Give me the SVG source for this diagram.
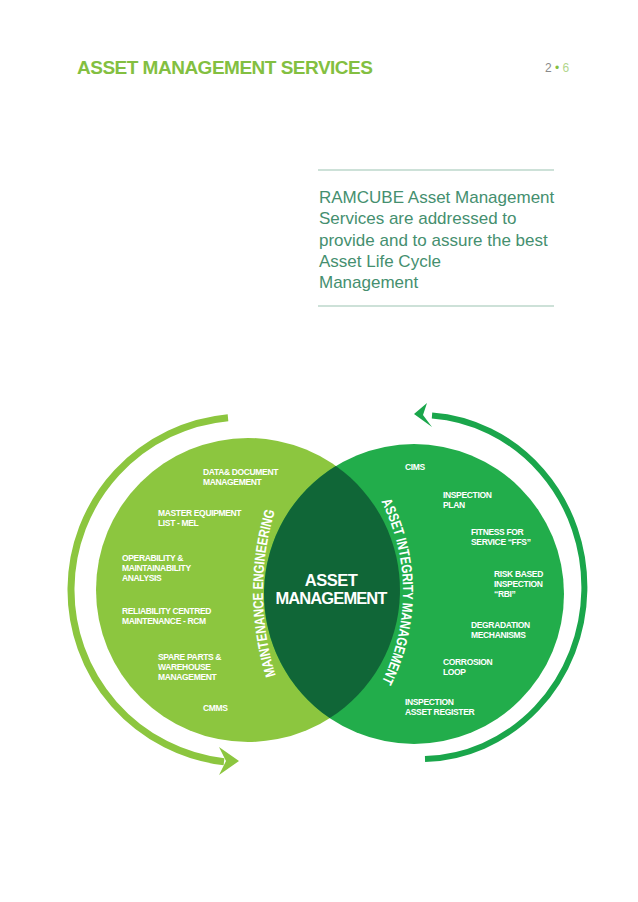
<svg xmlns="http://www.w3.org/2000/svg" width="638" height="902" viewBox="0 0 638 902">
<style>
.lbl{font-family:"Liberation Sans",Arial,sans-serif;font-weight:bold;font-size:8.5px;fill:#ffffff;letter-spacing:-0.35px}
.arc{font-family:"Liberation Sans",Arial,sans-serif;font-weight:bold;font-size:14.5px;fill:#ffffff}
.intro{font-family:"Liberation Sans",Arial,sans-serif;font-size:17px;fill:#458f6f}
.rule{stroke:#9cc4b2;stroke-width:1.2}
.mid{font-family:"Liberation Sans",Arial,sans-serif;font-weight:bold;font-size:16.5px;fill:#ffffff}
</style>
<defs>
<path id="pME" d="M 284.7 700 A 280 280 0 0 1 282.2 490"/>
<path id="pAIM" d="M 375 490 A 200 200 0 0 1 371.3 700"/>
</defs>
<rect width="638" height="902" fill="#ffffff"/>

<g id="header">
<text x="77" y="74" font-family="Liberation Sans,Arial,sans-serif" font-weight="bold" font-size="19" letter-spacing="-0.5" fill="#83bf41">ASSET MANAGEMENT SERVICES</text>
<text x="545" y="72" font-family="Liberation Sans,Arial,sans-serif" font-size="12" fill="#8a8a8a">2 <tspan fill="#83bf41">•</tspan> <tspan fill="#b2d68c">6</tspan></text>
</g>

<g id="intro">
<line class="rule" x1="318" y1="170" x2="554" y2="170"/>
<text class="intro" x="319" y="203">RAMCUBE Asset Management</text>
<text class="intro" x="319" y="224">Services are addressed to</text>
<text class="intro" x="319" y="245.5">provide and to assure the best</text>
<text class="intro" x="319" y="267">Asset Life Cycle</text>
<text class="intro" x="319" y="288">Management</text>
<line class="rule" x1="318" y1="306" x2="554" y2="306"/>
</g>

<g id="maintenance-engineering">
<circle cx="248" cy="590" r="152" fill="#8cc63f"/>
</g>
<g id="asset-integrity-management">
<circle cx="414" cy="594" r="150" fill="#22ad4b"/>
</g>
<g id="asset-management">
<path d="M 335.86 465.97 A 152 152 0 0 1 329.78 718.1 A 150 150 0 0 1 335.86 465.97 Z" fill="#106637"/>
<text class="mid" x="331" y="586" text-anchor="middle" letter-spacing="-0.5">ASSET</text>
<text class="mid" x="331" y="604" text-anchor="middle" letter-spacing="-0.9">MANAGEMENT</text>
</g>

<g id="me-labels">
<text class="arc"><textPath href="#pME" startOffset="26" textLength="167" lengthAdjust="spacingAndGlyphs">MAINTENANCE ENGINEERING</textPath></text>
<g id="n-data"><text class="lbl" x="203" y="475">DATA&amp; DOCUMENT</text><text class="lbl" x="203" y="485">MANAGEMENT</text></g>
<g id="n-mel"><text class="lbl" x="158" y="516">MASTER EQUIPMENT</text><text class="lbl" x="158" y="526">LIST - MEL</text></g>
<g id="n-oma"><text class="lbl" x="122" y="561">OPERABILITY &amp;</text><text class="lbl" x="122" y="571">MAINTAINABILITY</text><text class="lbl" x="122" y="581">ANALYSIS</text></g>
<g id="n-rcm"><text class="lbl" x="122" y="614">RELIABILITY CENTRED</text><text class="lbl" x="122" y="624">MAINTENANCE - RCM</text></g>
<g id="n-spare"><text class="lbl" x="158" y="660">SPARE PARTS &amp;</text><text class="lbl" x="158" y="670">WAREHOUSE</text><text class="lbl" x="158" y="680">MANAGEMENT</text></g>
<g id="n-cmms"><text class="lbl" x="203" y="711">CMMS</text></g>
</g>

<g id="aim-labels">
<text class="arc"><textPath href="#pAIM" startOffset="13" textLength="187" lengthAdjust="spacingAndGlyphs">ASSET INTEGRITY MANAGEMENT</textPath></text>
<g id="n-cims"><text class="lbl" x="405" y="470">CIMS</text></g>
<g id="n-plan"><text class="lbl" x="443" y="498">INSPECTION</text><text class="lbl" x="443" y="508">PLAN</text></g>
<g id="n-ffs"><text class="lbl" x="471" y="535">FITNESS FOR</text><text class="lbl" x="471" y="545">SERVICE “FFS”</text></g>
<g id="n-rbi"><text class="lbl" x="494" y="577">RISK BASED</text><text class="lbl" x="494" y="587">INSPECTION</text><text class="lbl" x="494" y="597">“RBI”</text></g>
<g id="n-deg"><text class="lbl" x="471" y="628">DEGRADATION</text><text class="lbl" x="471" y="638">MECHANISMS</text></g>
<g id="n-loop"><text class="lbl" x="443" y="665">CORROSION</text><text class="lbl" x="443" y="675">LOOP</text></g>
<g id="n-reg"><text class="lbl" x="405" y="705">INSPECTION</text><text class="lbl" x="405" y="715">ASSET REGISTER</text></g>
</g>

<g id="connectors" fill="none">
<path d="M 228 417.7 A 173 173 0 0 0 224 761.8" stroke="#8cc63f" stroke-width="7"/>
<polygon points="239,761 219,747 226,761 219,775" fill="#8cc63f"/>
<path d="M 432 415.5 A 164 172 0 0 1 425 759" stroke="#1aa64b" stroke-width="6"/>
<polygon points="414,414 427,403 423,415 432,427" fill="#1aa64b"/>
</g>
</svg>
